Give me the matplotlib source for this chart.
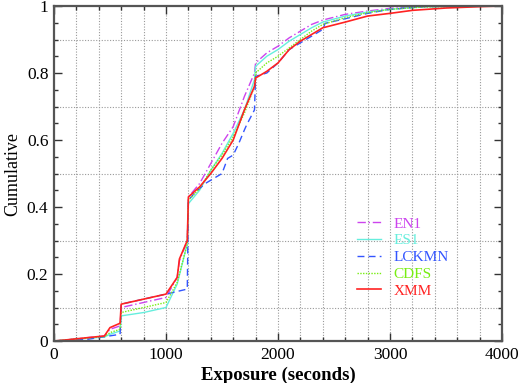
import matplotlib
matplotlib.use("Agg")
import matplotlib.pyplot as plt
from matplotlib.ticker import MultipleLocator, FixedLocator

plt.rcParams['font.family'] = ['Liberation Serif', 'DejaVu Serif']

# ---- data ----
xmm_x = [0, 100, 300, 450, 480, 500, 590, 600, 800, 1000, 1050, 1100, 1120, 1190, 1200, 1300, 1400,
         1500, 1600, 1700, 1790, 1800, 1900, 2000, 2100, 2200, 2300, 2400, 2600, 2800, 3000, 3200,
         3500, 3800, 4000]
xmm_y = [0, 0.003, 0.01, 0.015, 0.03, 0.04, 0.053, 0.11, 0.125, 0.14, 0.165, 0.19, 0.245, 0.30, 0.43,
         0.46, 0.50, 0.545, 0.60, 0.69, 0.76, 0.785, 0.805, 0.83, 0.87, 0.895, 0.915, 0.935, 0.952,
         0.97, 0.978, 0.987, 0.994, 0.998, 1.0]

en1_x = [0, 100, 300, 450, 500, 590, 600, 800, 1000, 1050, 1100, 1120, 1190, 1200, 1300, 1400, 1500,
         1600, 1700, 1790, 1800, 1900, 2000, 2100, 2200, 2300, 2400, 2600, 2800, 3000, 3200, 3400, 4000]
en1_y = [0, 0.003, 0.01, 0.015, 0.035, 0.045, 0.10, 0.115, 0.13, 0.16, 0.19, 0.24, 0.30, 0.43, 0.47,
         0.53, 0.59, 0.64, 0.73, 0.80, 0.83, 0.86, 0.88, 0.905, 0.925, 0.945, 0.958, 0.975, 0.985,
         0.993, 0.997, 1.0, 1.0]

es1_x = [0, 100, 300, 450, 500, 590, 600, 800, 1000, 1100, 1190, 1200, 1300, 1400, 1500, 1600, 1700,
         1790, 1800, 1900, 2000, 2100, 2200, 2300, 2400, 2600, 2800, 3000, 3300, 4000]
es1_y = [0, 0.003, 0.008, 0.012, 0.02, 0.03, 0.075, 0.085, 0.10, 0.17, 0.29, 0.41, 0.45, 0.51, 0.56,
         0.62, 0.69, 0.78, 0.82, 0.85, 0.87, 0.895, 0.915, 0.935, 0.952, 0.97, 0.982, 0.99, 0.998, 1.0]

lckmn_x = [0, 300, 590, 600, 800, 1000, 1190, 1200, 1250, 1300, 1350, 1400, 1450, 1500, 1550, 1600,
           1650, 1700, 1720, 1790, 1800, 1900, 2000, 2100, 2200, 2300, 2400, 2420, 2600, 2800, 3000,
           3300, 4000]
lckmn_y = [0, 0.005, 0.02, 0.11, 0.125, 0.14, 0.155, 0.42, 0.44, 0.455, 0.47, 0.48, 0.49, 0.50, 0.545,
           0.555, 0.59, 0.63, 0.645, 0.69, 0.79, 0.80, 0.83, 0.87, 0.89, 0.91, 0.93, 0.948, 0.962,
           0.978, 0.99, 0.998, 1.0]

cdfs_x = [0, 100, 300, 450, 500, 590, 600, 800, 1000, 1100, 1190, 1200, 1300, 1400, 1500, 1600, 1700,
          1790, 1800, 1900, 2000, 2100, 2200, 2300, 2400, 2600, 2800, 3000, 3300, 4000]
cdfs_y = [0, 0.003, 0.009, 0.013, 0.025, 0.035, 0.085, 0.10, 0.115, 0.175, 0.29, 0.42, 0.455, 0.51,
          0.555, 0.61, 0.68, 0.76, 0.80, 0.83, 0.85, 0.875, 0.90, 0.925, 0.945, 0.965, 0.98, 0.99,
          0.997, 1.0]

names = ['EN1', 'ES1', 'LCKMN', 'CDFS', 'XMM']
colors = ['#cc44ee', '#66eedd', '#3355ff', '#77ee11', '#ff2222']
styles = [(0, (6, 2, 1, 2)), '-', (0, (5, 3)), (0, (1, 1)), '-']
widths = [1.0, 1.0, 1.0, 1.0, 1.2]
series = [(en1_x, en1_y), (es1_x, es1_y), (lckmn_x, lckmn_y), (cdfs_x, cdfs_y), (xmm_x, xmm_y)]

fig = plt.figure(figsize=(5.21, 3.83), dpi=100)
ax = fig.add_axes([54/521, 42/383, 448/521, 335/383])

for (xs, ys), n, c, ls, lw in zip(series, names, colors, styles, widths):
    ax.plot(xs, ys, color=c, linestyle=ls, linewidth=lw, label=n)

ax.set_xlim(0, 4000)
ax.set_ylim(0, 1)
ax.xaxis.set_major_locator(MultipleLocator(1000))
ax.xaxis.set_minor_locator(MultipleLocator(200))
ax.yaxis.set_major_locator(FixedLocator([0, 0.2, 0.4, 0.6, 0.8, 1.0]))
ax.yaxis.set_minor_locator(MultipleLocator(0.05))
ax.set_yticklabels(['0', '0.2', '0.4', '0.6', '0.8', '1'])

# grid: vertical every 200, horizontal at odd tenths
for gx in range(200, 4000, 200):
    ax.axvline(gx, color='#999999', linestyle=(0, (1, 1.5)), linewidth=0.8, zorder=0)
for gy in [0.1, 0.3, 0.5, 0.7, 0.9]:
    ax.axhline(gy, color='#999999', linestyle=(0, (1, 1.5)), linewidth=0.8, zorder=0)

ax.tick_params(which='both', direction='in', top=True, right=True, colors='#333333',
               labelcolor='black', labelsize=12.5)
ax.tick_params(which='major', length=6, width=1, pad=4)
ax.tick_params(which='minor', length=3, width=1)
for s in ax.spines.values():
    s.set_linewidth(1.6)
    s.set_color('#555555')

ax.set_xlabel('Exposure (seconds)', fontsize=13.5, fontweight='bold', labelpad=3)
ax.set_ylabel('Cumulative', fontsize=13, labelpad=4)

leg = ax.legend(loc='upper left', bbox_to_anchor=(0.676, 0.37), frameon=False, fontsize=11,
                handlelength=1.6, handletextpad=0.8, labelspacing=0.2, borderpad=0,
                borderaxespad=0)
for t, c in zip(leg.get_texts(), colors):
    t.set_color(c)

fig.savefig('out.png', dpi=100)
